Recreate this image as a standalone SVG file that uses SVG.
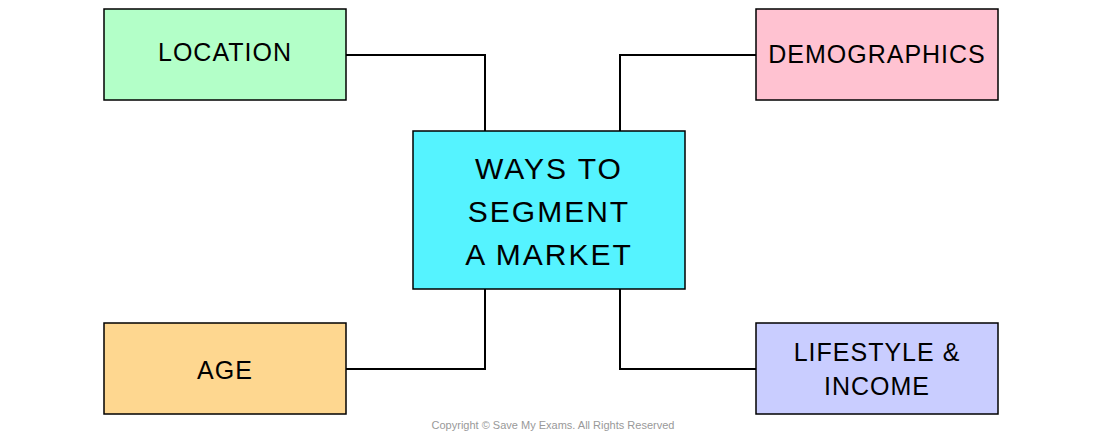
<svg xmlns="http://www.w3.org/2000/svg" width="1106" height="435" viewBox="0 0 1106 435">
<style>
.b{stroke:#000;stroke-width:1.5}
.t{font-family:"Liberation Sans",Arial,sans-serif;font-size:25px;letter-spacing:1px;text-anchor:middle;fill:#000}
.c{fill:none;stroke:#000;stroke-width:2}
</style>
<rect width="1106" height="435" fill="#fff"/>
<g id="connectors">
<polyline class="c" points="346,55 485,55 485,131"/>
<polyline class="c" points="756,55 620,55 620,131"/>
<polyline class="c" points="346,369 485,369 485,289"/>
<polyline class="c" points="756,369 620,369 620,289"/>
</g>
<g id="location"><rect class="b" x="104" y="9" width="242" height="91" fill="#b3ffc8"/><text class="t" x="225" y="61">LOCATION</text></g>
<g id="demographics"><rect class="b" x="756" y="9" width="242" height="91" fill="#ffc2d1"/><text class="t" x="877" y="63">DEMOGRAPHICS</text></g>
<g id="center"><rect class="b" x="413" y="131" width="272" height="158" fill="#55f3ff"/><text class="t" x="549" y="179" style="font-size:30px;letter-spacing:2px">WAYS TO</text><text class="t" x="549" y="222" style="font-size:30px;letter-spacing:2px">SEGMENT</text><text class="t" x="549" y="265" style="font-size:30px;letter-spacing:2px">A MARKET</text></g>
<g id="age"><rect class="b" x="104" y="323" width="242" height="91" fill="#fed790"/><text class="t" x="225" y="379">AGE</text></g>
<g id="lifestyle"><rect class="b" x="756" y="323" width="242" height="91" fill="#c9cdff"/><text class="t" x="877" y="361">LIFESTYLE &amp;</text><text class="t" x="877" y="395">INCOME</text></g>
<text x="553" y="429" style="font-family:'Liberation Sans',Arial,sans-serif;font-size:11px;fill:#999;text-anchor:middle">Copyright © Save My Exams. All Rights Reserved</text>
</svg>
